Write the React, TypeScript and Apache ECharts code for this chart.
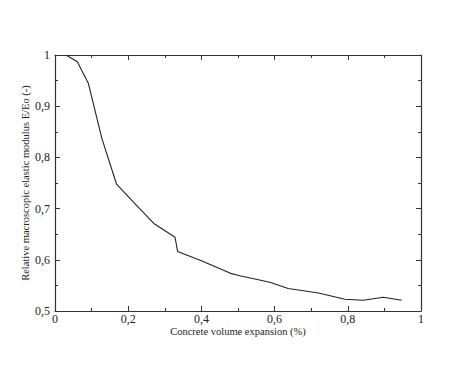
import React, { useEffect, useRef } from "react";
import * as echarts from "echarts";

const xValues = [0.03, 0.061, 0.091, 0.128, 0.168, 0.215, 0.27, 0.328, 0.335, 0.40, 0.478, 0.505, 0.587, 0.637, 0.72, 0.792, 0.842, 0.897, 0.947];
const yValues = [1.0, 0.987, 0.945, 0.837, 0.748, 0.712, 0.671, 0.644, 0.616, 0.598, 0.574, 0.569, 0.556, 0.544, 0.535, 0.523, 0.521, 0.527, 0.521];
const xTicks = [0, 0.2, 0.4, 0.6, 0.8, 1];
const yTicks = [0.5, 0.6, 0.7, 0.8, 0.9, 1];

const fmt = (v: number) => (Math.round(v * 10) / 10).toString().replace(".", ",");

export default function App() {
  const ref = useRef<HTMLDivElement>(null);
  useEffect(() => {
    if (!ref.current) return;
    const chart = echarts.init(ref.current, undefined, { renderer: "svg" });
    const font = "Liberation Serif";
    const axisLine = { show: true, onZero: false, lineStyle: { color: "#333", width: 1.2 } };
    const tick = { show: true, inside: true, length: 5, lineStyle: { color: "#333" } };
    const minor = { show: true, splitNumber: 2, length: 3, lineStyle: { color: "#333" } };
    const xBase = { type: "value", min: 0, max: 1, interval: 0.2, splitLine: { show: false }, axisLine, axisTick: tick, minorTick: minor };
    const yBase = { type: "value", min: 0.5, max: 1, interval: 0.1, splitLine: { show: false }, axisLine, axisTick: tick, minorTick: minor };
    chart.setOption({
      animation: false,
      grid: { left: 55, right: 53, top: 55, bottom: 55 },
      xAxis: [
        {
          ...xBase,
          position: "bottom",
          axisLabel: { fontFamily: font, fontSize: 12, color: "#222", margin: 2, formatter: (v: number) => (xTicks.includes(Math.round(v * 10) / 10) ? fmt(v) : "") },
          name: "Concrete volume expansion (%)",
          nameLocation: "middle",
          nameGap: 15,
          nameMoveOverlap: false,
          nameTextStyle: { fontFamily: font, fontSize: 10.5, color: "#222" },
        },
        { ...xBase, position: "top", axisLabel: { show: false } },
      ],
      yAxis: [
        {
          ...yBase,
          position: "left",
          axisLabel: { fontFamily: font, fontSize: 12, color: "#222", margin: 5, formatter: (v: number) => (yTicks.includes(Math.round(v * 10) / 10) ? fmt(v) : "") },
          name: "Relative macroscopic elastic modulus E/Eo (-)",
          nameLocation: "middle",
          nameGap: 24,
          nameMoveOverlap: false,
          nameTextStyle: { fontFamily: font, fontSize: 10.5, color: "#222" },
        },
        { ...yBase, position: "right", axisLabel: { show: false } },
      ],
      series: [
        {
          type: "line",
          xAxisIndex: 0,
          yAxisIndex: 0,
          data: xValues.map((x, i) => [x, yValues[i]]),
          showSymbol: false,
          lineStyle: { color: "#222", width: 1.1 },
        },
      ],
    });
    return () => chart.dispose();
  }, []);
  return <div ref={ref} style={{ width: 474, height: 366, position: "absolute", left: 0, top: 0 }} />;
}
